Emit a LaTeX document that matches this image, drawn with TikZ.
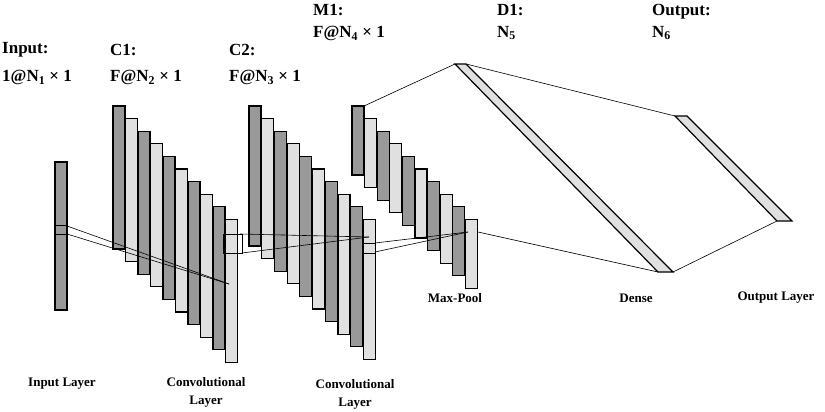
\documentclass[tikz,border=0pt]{standalone}
\usepackage{fontspec}
\setmainfont{Liberation Serif}
\begin{document}
\begin{tikzpicture}[x=1pt,y=-1pt,
  dk/.style={draw=black,line width=1.2pt,fill=black!40},
  lt/.style={draw=black,line width=1.2pt,fill=black!12},
  ln/.style={draw=black,line width=0.6pt},
  ttl/.style={anchor=north west,inner sep=0,font=\fontsize{17}{19}\selectfont\bfseries},
  lab/.style={align=center,inner sep=0,font=\fontsize{13}{18}\selectfont\bfseries}]
\useasboundingbox (0,0) rectangle (825,412);
% input
\draw[dk] (55,162) rectangle (67,310);
\draw[ln] (55,225) rectangle (67,234);
% C1
\foreach \i in {0,...,9}{
  \pgfmathsetmacro\xx{113+12.5*\i}\pgfmathsetmacro\yy{106+12.6*\i}
  \pgfmathtruncatemacro\odd{mod(\i,2)}
  \ifnum\odd=0 \def\st{dk}\else\def\st{lt}\fi
  \draw[\st] (\xx,\yy) rectangle ++(12,143);}
% C2
\foreach \i in {0,...,9}{
  \pgfmathsetmacro\xx{249+12.7*\i}\pgfmathsetmacro\yy{106+12.6*\i}
  \pgfmathtruncatemacro\odd{mod(\i,2)}
  \ifnum\odd=0 \def\st{dk}\else\def\st{lt}\fi
  \draw[\st] (\xx,\yy) rectangle ++(12,140);}
% M1
\foreach \i in {0,...,9}{
  \pgfmathsetmacro\xx{352+12.6*\i}\pgfmathsetmacro\yy{106+12.6*\i}
  \pgfmathtruncatemacro\odd{mod(\i,2)}
  \ifnum\odd=0 \def\st{dk}\else\def\st{lt}\fi
  \draw[\st] (\xx,\yy) rectangle ++(12,69);}
% dense, output
\draw[lt] (455,64) -- (466,64) -- (673,272) -- (658,272) -- cycle;
\draw[lt] (675,116) -- (687,116) -- (792,221) -- (777,221) -- cycle;
% receptive squares
\draw[ln] (223,234) rectangle (242,253);
\draw[ln] (363,243) rectangle (375,253);
% connectors
\coordinate (a) at (229,284);
\draw[ln] (67,226) -- (a); \draw[ln] (67,234) -- (a);
\coordinate (b) at (369,237);
\draw[ln] (240,234) -- (b); \draw[ln] (242,253) -- (b);
\coordinate (c) at (468,232);
\draw[ln] (375,243) -- (c); \draw[ln] (375,252) -- (c);
\draw[ln] (364,106) -- (455,64);
\draw[ln] (466,64) -- (675,116);
\draw[ln] (478,232) -- (658,272);
\draw[ln] (673,272) -- (777,221);
% titles
\node[ttl] at (2,42) {Input:};
\node[ttl] at (2,70) {1@N\textsubscript{1} × 1};
\node[ttl] at (110,44) {C1:};
\node[ttl] at (110,70) {F@N\textsubscript{2} × 1};
\node[ttl] at (229,44) {C2:};
\node[ttl] at (229,70) {F@N\textsubscript{3} × 1};
\node[ttl] at (313,4) {M1:};
\node[ttl] at (313,26) {F@N\textsubscript{4} × 1};
\node[ttl] at (497,4) {D1:};
\node[ttl] at (497,26) {N\textsubscript{5}};
\node[ttl] at (652,4) {Output:};
\node[ttl] at (652,26) {N\textsubscript{6}};
% bottom labels
\node[lab] at (62,384) {Input Layer};
\node[lab] at (206,392) {Convolutional\\Layer};
\node[lab] at (355,394) {Convolutional\\Layer};
\node[lab] at (455,298) {Max-Pool};
\node[lab] at (636,298) {Dense};
\node[lab] at (776,298) {Output Layer};
\end{tikzpicture}
\end{document}
